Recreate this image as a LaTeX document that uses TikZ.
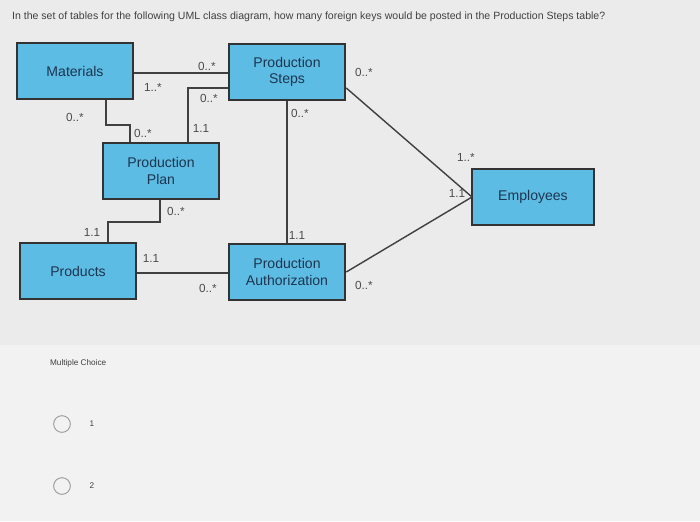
\documentclass[tikz,border=0pt]{standalone}
\usepackage{fontspec}
\setmainfont{Liberation Sans}
\usetikzlibrary{positioning}
\definecolor{boxblue}{HTML}{5CBCE3}
\definecolor{boxtext}{HTML}{1E3550}
\definecolor{bgrey}{HTML}{EBEBEB}
\tikzset{
  cls/.style={draw=black!80, line width=1.6pt, fill=boxblue, minimum width=3.5cm, minimum height=1.7cm, align=center, font=\large, text=boxtext},
  mult/.style={font=\normalsize, text=black!70},
  link/.style={draw=black!75, line width=1.2pt}
}
\begin{document}
\begin{tikzpicture}[x=0.03cm, y=-0.03cm]
        \fill[bgrey] (0,0) rectangle (700,521);
        \fill[black!5] (0,345) rectangle (700,521);
        \node[anchor=west, font=\small, text=black!75] (q) at (8,17) {In the set of tables for the following UML class diagram, how many foreign keys would be posted in the Production Steps table?};
        % classes
        \node[cls] (mat) at (75,71) {Materials};
        \node[cls] (steps) at (287,72) {Production\\Steps};
        \node[cls] (plan) at (161,171) {Production\\Plan};
        \node[cls] (prod) at (78,271) {Products};
        \node[cls] (auth) at (287,272) {Production\\Authorization};
        \node[cls, minimum width=3.65cm] (emp) at (533,197) {Employees};
        % bends
        \coordinate (c1) at (106,125);
        \coordinate (c2) at (130,125);
        \coordinate (c3) at (188,88);
        \coordinate (c4) at (160,222);
        \coordinate (c5) at (108,222);
        \coordinate (j) at (472,197);
        \draw[link] (mat.east |- 0,73) -- (steps.west |- 0,73);
        \draw[link] (mat.south -| c1) -- (c1) -- (c2) -- (plan.north -| c2);
        \draw[link] (plan.north -| c3) -- (c3) -- (steps.west |- c3);
        \draw[link] (steps.south) -- (auth.north);
        \draw[link] (plan.south -| c4) -- (c4) -- (c5) -- (prod.north -| c5);
        \draw[link] (prod.east |- 0,273) -- (auth.west |- 0,273);
        \draw[link] (steps.east |- 0,88) -- (j);
        \draw[link] (auth.east |- 0,272) -- (j);
        % multiplicities
        \node[mult] (m1) at (207,66) {0..*};
        \node[mult] (m2) at (153,87) {1..*};
        \node[mult] (m3) at (209,98) {0..*};
        \node[mult] (m4) at (201,128) {1.1};
        \node[mult] (m5) at (75,117) {0..*};
        \node[mult] (m6) at (143,133) {0..*};
        \node[mult] (m7) at (300,113) {0..*};
        \node[mult] (m8) at (176,211) {0..*};
        \node[mult] (m9) at (92,232) {1.1};
        \node[mult] (m10) at (297,235) {1.1};
        \node[mult] (m11) at (151,258) {1.1};
        \node[mult] (m12) at (208,288) {0..*};
        \node[mult] (m13) at (364,72) {0..*};
        \node[mult] (m14) at (364,285) {0..*};
        \node[mult] (m15) at (466,157) {1..*};
        \node[mult] (m16) at (457,193) {1.1};
        % answers
        \node[anchor=west, font=\scriptsize, text=black!75] (mc) at (46,363) {Multiple Choice};
        \node[draw=black!40, circle, minimum size=0.5cm, thick] (o1) at (62,424) {};
        \node[draw=black!40, circle, minimum size=0.5cm, thick] (o2) at (62,486) {};
        \node[font=\scriptsize, text=black!75] (a1) at (92,424) {1};
        \node[font=\scriptsize, text=black!75] (a2) at (92,486) {2};
\end{tikzpicture}
\end{document}
